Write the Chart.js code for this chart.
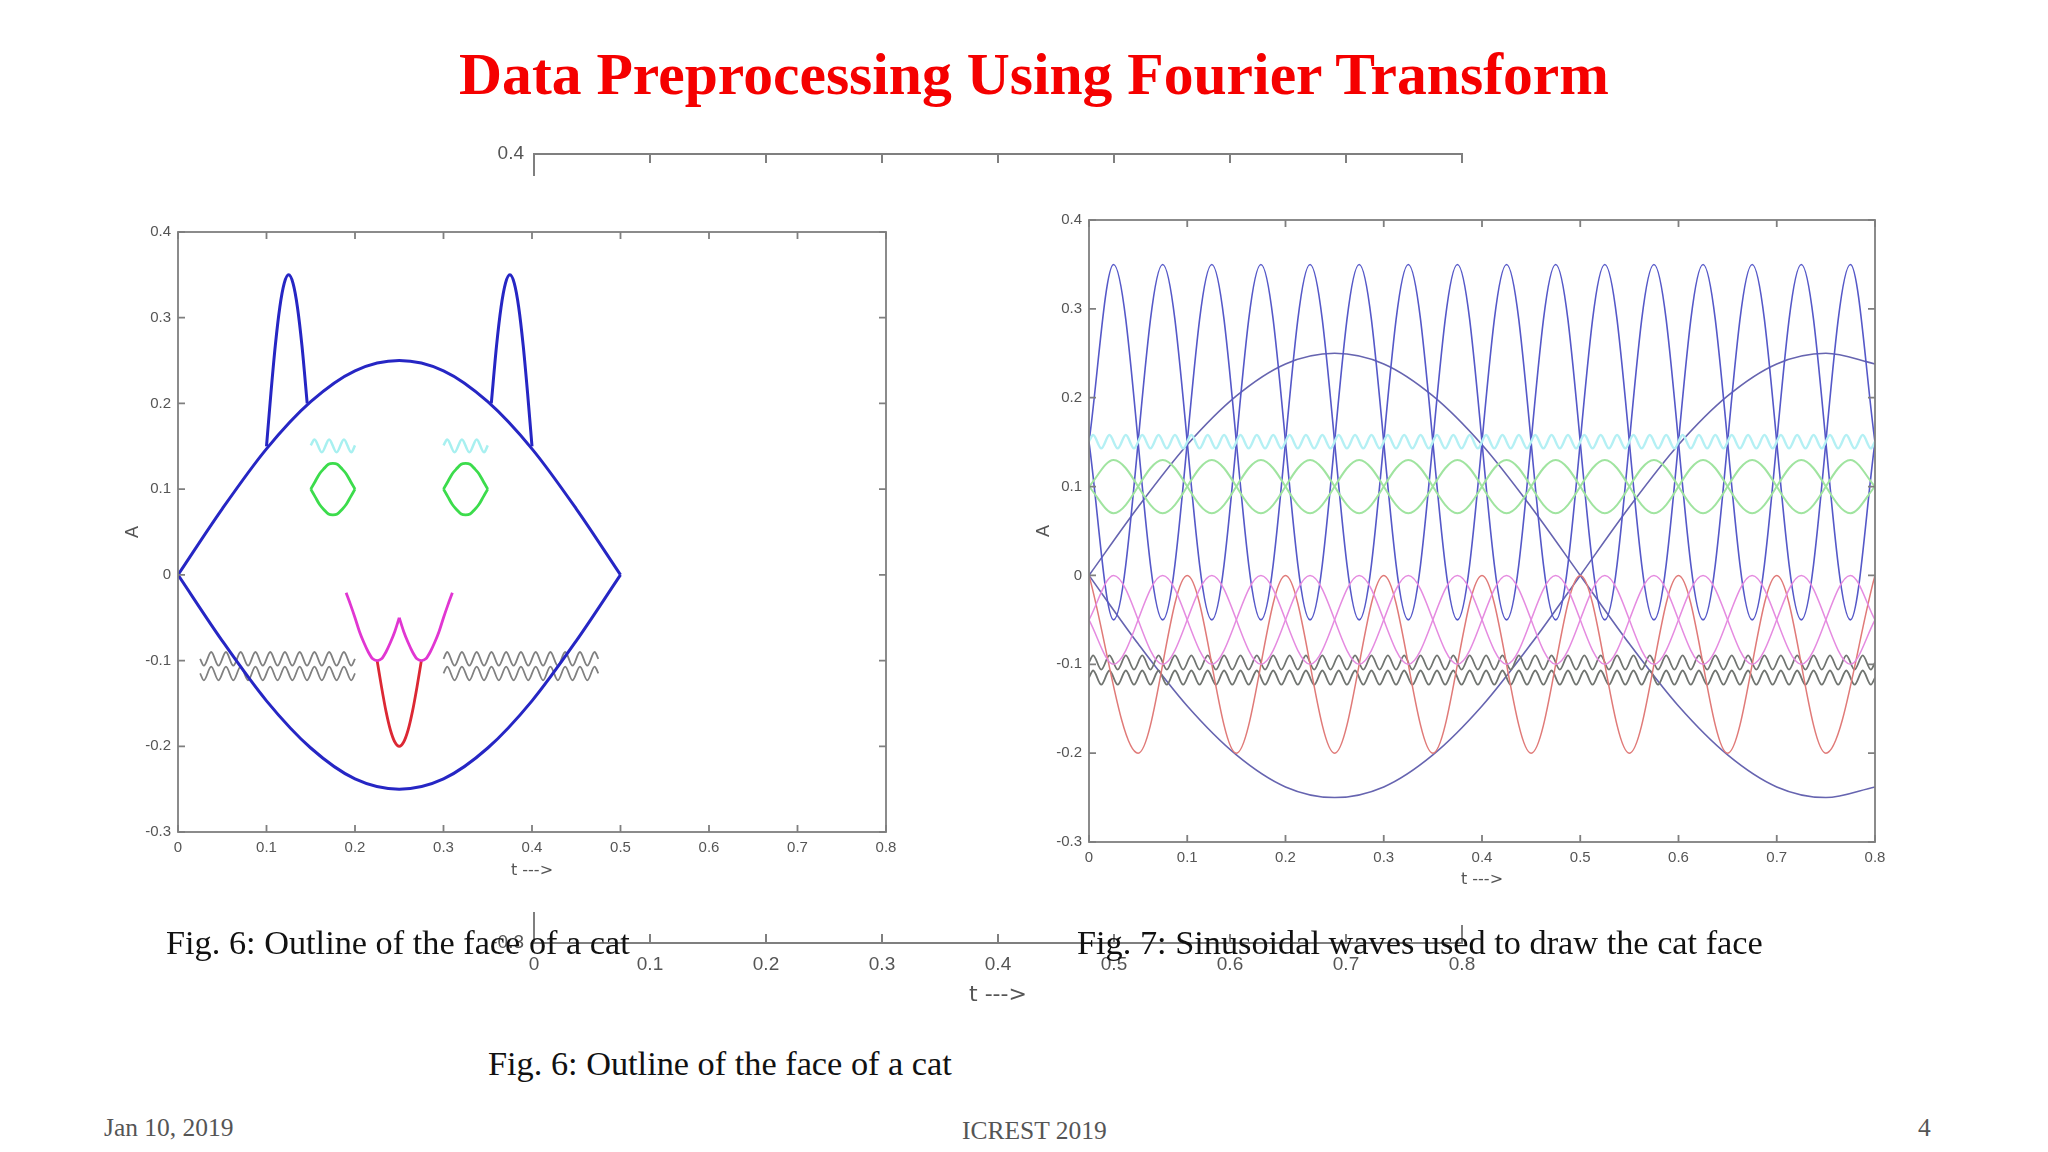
<!DOCTYPE html>
<html>
<head>
<meta charset="utf-8">
<title>Data Preprocessing Using Fourier Transform</title>
<script src="https://cdn.jsdelivr.net/npm/chart.js@4"></script>
<style>
  html, body { margin: 0; padding: 0; background: #fff; }
  body { position: relative; width: 2048px; height: 1152px; overflow: hidden; }
  canvas { position: absolute; filter: blur(0.5px); }
  .cover { position: absolute; background: #fff; z-index: 2; }
  .txt { position: absolute; white-space: nowrap; font-family: "Liberation Serif", serif; z-index: 5; line-height: 1; }
  #slideTitle { left: 0; width: 2068px; text-align: center; top: 45px; font-size: 59.6px; font-weight: bold; color: #f50000; }
  .cap { font-size: 34.3px; color: #111; }
  .foot { font-size: 25.5px; color: #555; }
</style>
</head>
<body>
<canvas id="bgChart" width="1013" height="883" style="left:474px;top:129px;z-index:1"></canvas>
<div class="cover" style="left:0;top:176px;width:1000px;height:736px"></div>
<div class="cover" style="left:1000px;top:176px;width:1048px;height:749px"></div>
<div class="cover" style="left:1450px;top:163px;width:30px;height:13px"></div>
<canvas id="faceChart" width="803" height="677" style="left:108px;top:207px;z-index:3"></canvas>
<canvas id="waveChart" width="881" height="698" style="left:1019px;top:195px;z-index:3"></canvas>

<div class="txt" id="slideTitle">Data Preprocessing Using Fourier Transform</div>
<div class="txt cap" style="left:166px;top:925px">Fig. 6: Outline of the face of a cat</div>
<div class="txt cap" style="left:1077px;top:925px">Fig. 7: Sinusoidal waves used to draw the cat face</div>
<div class="txt cap" style="left:488px;top:1046px">Fig. 6: Outline of the face of a cat</div>
<div class="txt foot" style="left:104px;top:1115px">Jan 10, 2019</div>
<div class="txt foot" style="left:962px;top:1118px">ICREST 2019</div>
<div class="txt foot" style="left:1918px;top:1115px">4</div>

<script>
// axis ticks
const xTicks = [0, 0.1, 0.2, 0.3, 0.4, 0.5, 0.6, 0.7, 0.8];
const yTicks = [-0.3, -0.2, -0.1, 0, 0.1, 0.2, 0.3, 0.4];

// Fig. 6, the cat face, piece by piece
const faceT = [0, 0.05, 0.1, 0.15, 0.2, 0.25, 0.3, 0.35, 0.4, 0.45, 0.5];
const faceTop = [0, 0.077, 0.147, 0.202, 0.238, 0.25, 0.238, 0.202, 0.147, 0.077, 0];
const faceBottom = [0, -0.077, -0.147, -0.202, -0.238, -0.25, -0.238, -0.202, -0.147, -0.077, 0];

const earLeftT = [0.1, 0.105, 0.11, 0.115, 0.12, 0.125, 0.13, 0.135, 0.14, 0.146];
const earLeftY = [0.15, 0.212, 0.268, 0.312, 0.34, 0.35, 0.34, 0.312, 0.268, 0.2];
const earRightT = [0.354, 0.36, 0.365, 0.37, 0.375, 0.38, 0.385, 0.39, 0.395, 0.4];
const earRightY = [0.2, 0.268, 0.312, 0.34, 0.35, 0.34, 0.312, 0.268, 0.212, 0.15];

const eyeLeftT = [0.15, 0.155, 0.16, 0.165, 0.17, 0.175, 0.18, 0.185, 0.19, 0.195, 0.2];
const eyeRightT = [0.3, 0.305, 0.31, 0.315, 0.32, 0.325, 0.33, 0.335, 0.34, 0.345, 0.35];
const eyeUpper = [0.1, 0.109, 0.118, 0.124, 0.129, 0.13, 0.129, 0.124, 0.118, 0.109, 0.1];
const eyeLower = [0.1, 0.091, 0.082, 0.076, 0.071, 0.07, 0.071, 0.076, 0.082, 0.091, 0.1];

const browLeftT = [0.15, 0.1542, 0.1625, 0.1708, 0.1792, 0.1875, 0.1958, 0.2];
const browRightT = [0.3, 0.3042, 0.3125, 0.3208, 0.3292, 0.3375, 0.3458, 0.35];
const browY = [0.151, 0.158, 0.143, 0.158, 0.143, 0.158, 0.143, 0.151];

const mouthLeftT = [0.19, 0.195, 0.2, 0.205, 0.21, 0.215, 0.22, 0.225, 0.23, 0.235, 0.24, 0.245, 0.25];
const mouthLeftY = [-0.021, -0.035, -0.05, -0.066, -0.079, -0.09, -0.098, -0.1, -0.098, -0.09, -0.079, -0.066, -0.05];
const mouthRightT = [0.25, 0.255, 0.26, 0.265, 0.27, 0.275, 0.28, 0.285, 0.29, 0.295, 0.3, 0.305, 0.31];
const mouthRightY = [-0.05, -0.066, -0.079, -0.09, -0.098, -0.1, -0.098, -0.09, -0.079, -0.066, -0.05, -0.035, -0.021];

const chinT = [0.225, 0.23, 0.235, 0.24, 0.245, 0.25, 0.255, 0.26, 0.265, 0.27, 0.275];
const chinY = [-0.1, -0.131, -0.159, -0.181, -0.195, -0.2, -0.195, -0.181, -0.159, -0.131, -0.1];

const whiskerLeftT = [0.025, 0.0292, 0.0375, 0.0458, 0.0542, 0.0625, 0.0708, 0.0792, 0.0875, 0.0958, 0.1042, 0.1125,
  0.1208, 0.1292, 0.1375, 0.1458, 0.1542, 0.1625, 0.1708, 0.1792, 0.1875, 0.1958, 0.2];
const whiskerLeftUpper = [-0.098, -0.106, -0.09, -0.106, -0.09, -0.106, -0.09, -0.106, -0.09, -0.106, -0.09, -0.106,
  -0.09, -0.106, -0.09, -0.106, -0.09, -0.106, -0.09, -0.106, -0.09, -0.106, -0.098];
const whiskerLeftLower = [-0.115, -0.123, -0.107, -0.123, -0.107, -0.123, -0.107, -0.123, -0.107, -0.123, -0.107, -0.123,
  -0.107, -0.123, -0.107, -0.123, -0.107, -0.123, -0.107, -0.123, -0.107, -0.123, -0.115];
const whiskerRightT = [0.3, 0.3042, 0.3125, 0.3208, 0.3292, 0.3375, 0.3458, 0.3542, 0.3625, 0.3708, 0.3792, 0.3875,
  0.3958, 0.4042, 0.4125, 0.4208, 0.4292, 0.4375, 0.4458, 0.4542, 0.4625, 0.4708, 0.475];
const whiskerRightUpper = [-0.098, -0.09, -0.106, -0.09, -0.106, -0.09, -0.106, -0.09, -0.106, -0.09, -0.106, -0.09,
  -0.106, -0.09, -0.106, -0.09, -0.106, -0.09, -0.106, -0.09, -0.106, -0.09, -0.098];
const whiskerRightLower = [-0.115, -0.107, -0.123, -0.107, -0.123, -0.107, -0.123, -0.107, -0.123, -0.107, -0.123, -0.107,
  -0.123, -0.107, -0.123, -0.107, -0.123, -0.107, -0.123, -0.107, -0.123, -0.107, -0.115];

// Fig. 7, the full waves over 0..0.8
const slowT = [0, 0.05, 0.1, 0.15, 0.2, 0.25, 0.3, 0.35, 0.4, 0.45, 0.5, 0.55, 0.6, 0.65, 0.7, 0.75, 0.8];
const waveFaceUp = [0, 0.077, 0.147, 0.202, 0.238, 0.25, 0.238, 0.202, 0.147, 0.077, 0, -0.077, -0.147, -0.202, -0.238, -0.25, -0.238];
const waveFaceDown = [0, -0.077, -0.147, -0.202, -0.238, -0.25, -0.238, -0.202, -0.147, -0.077, 0, 0.077, 0.147, 0.202, 0.238, 0.25, 0.238];
const waveChin = [0, -0.2, 0, -0.2, 0, -0.2, 0, -0.2, 0, -0.2, 0, -0.2, 0, -0.2, 0, -0.2, 0];

const midT = [0, 0.025, 0.075, 0.125, 0.175, 0.225, 0.275, 0.325, 0.375, 0.425, 0.475, 0.525, 0.575, 0.625, 0.675, 0.725, 0.775, 0.8];
const waveEarUp = [0.15, 0.35, -0.05, 0.35, -0.05, 0.35, -0.05, 0.35, -0.05, 0.35, -0.05, 0.35, -0.05, 0.35, -0.05, 0.35, -0.05, 0.15];
const waveEarDown = [0.15, -0.05, 0.35, -0.05, 0.35, -0.05, 0.35, -0.05, 0.35, -0.05, 0.35, -0.05, 0.35, -0.05, 0.35, -0.05, 0.35, 0.15];
const waveEyeUp = [0.1, 0.13, 0.07, 0.13, 0.07, 0.13, 0.07, 0.13, 0.07, 0.13, 0.07, 0.13, 0.07, 0.13, 0.07, 0.13, 0.07, 0.1];
const waveEyeDown = [0.1, 0.07, 0.13, 0.07, 0.13, 0.07, 0.13, 0.07, 0.13, 0.07, 0.13, 0.07, 0.13, 0.07, 0.13, 0.07, 0.13, 0.1];
const waveMouthUp = [-0.05, 0, -0.1, 0, -0.1, 0, -0.1, 0, -0.1, 0, -0.1, 0, -0.1, 0, -0.1, 0, -0.1, -0.05];
const waveMouthDown = [-0.05, -0.1, 0, -0.1, 0, -0.1, 0, -0.1, 0, -0.1, 0, -0.1, 0, -0.1, 0, -0.1, 0, -0.05];

const fastT = [0,
  0.0042, 0.0125, 0.0208, 0.0292, 0.0375, 0.0458, 0.0542, 0.0625, 0.0708, 0.0792, 0.0875, 0.0958,
  0.1042, 0.1125, 0.1208, 0.1292, 0.1375, 0.1458, 0.1542, 0.1625, 0.1708, 0.1792, 0.1875, 0.1958,
  0.2042, 0.2125, 0.2208, 0.2292, 0.2375, 0.2458, 0.2542, 0.2625, 0.2708, 0.2792, 0.2875, 0.2958,
  0.3042, 0.3125, 0.3208, 0.3292, 0.3375, 0.3458, 0.3542, 0.3625, 0.3708, 0.3792, 0.3875, 0.3958,
  0.4042, 0.4125, 0.4208, 0.4292, 0.4375, 0.4458, 0.4542, 0.4625, 0.4708, 0.4792, 0.4875, 0.4958,
  0.5042, 0.5125, 0.5208, 0.5292, 0.5375, 0.5458, 0.5542, 0.5625, 0.5708, 0.5792, 0.5875, 0.5958,
  0.6042, 0.6125, 0.6208, 0.6292, 0.6375, 0.6458, 0.6542, 0.6625, 0.6708, 0.6792, 0.6875, 0.6958,
  0.7042, 0.7125, 0.7208, 0.7292, 0.7375, 0.7458, 0.7542, 0.7625, 0.7708, 0.7792, 0.7875, 0.7958,
  0.8];
const waveBrow = [0.151,
  0.158, 0.143, 0.158, 0.143, 0.158, 0.143, 0.158, 0.143, 0.158, 0.143, 0.158, 0.143,
  0.158, 0.143, 0.158, 0.143, 0.158, 0.143, 0.158, 0.143, 0.158, 0.143, 0.158, 0.143,
  0.158, 0.143, 0.158, 0.143, 0.158, 0.143, 0.158, 0.143, 0.158, 0.143, 0.158, 0.143,
  0.158, 0.143, 0.158, 0.143, 0.158, 0.143, 0.158, 0.143, 0.158, 0.143, 0.158, 0.143,
  0.158, 0.143, 0.158, 0.143, 0.158, 0.143, 0.158, 0.143, 0.158, 0.143, 0.158, 0.143,
  0.158, 0.143, 0.158, 0.143, 0.158, 0.143, 0.158, 0.143, 0.158, 0.143, 0.158, 0.143,
  0.158, 0.143, 0.158, 0.143, 0.158, 0.143, 0.158, 0.143, 0.158, 0.143, 0.158, 0.143,
  0.158, 0.143, 0.158, 0.143, 0.158, 0.143, 0.158, 0.143, 0.158, 0.143, 0.158, 0.143,
  0.151];
const waveWhiskerUpper = [-0.098,
  -0.09, -0.106, -0.09, -0.106, -0.09, -0.106, -0.09, -0.106, -0.09, -0.106, -0.09, -0.106,
  -0.09, -0.106, -0.09, -0.106, -0.09, -0.106, -0.09, -0.106, -0.09, -0.106, -0.09, -0.106,
  -0.09, -0.106, -0.09, -0.106, -0.09, -0.106, -0.09, -0.106, -0.09, -0.106, -0.09, -0.106,
  -0.09, -0.106, -0.09, -0.106, -0.09, -0.106, -0.09, -0.106, -0.09, -0.106, -0.09, -0.106,
  -0.09, -0.106, -0.09, -0.106, -0.09, -0.106, -0.09, -0.106, -0.09, -0.106, -0.09, -0.106,
  -0.09, -0.106, -0.09, -0.106, -0.09, -0.106, -0.09, -0.106, -0.09, -0.106, -0.09, -0.106,
  -0.09, -0.106, -0.09, -0.106, -0.09, -0.106, -0.09, -0.106, -0.09, -0.106, -0.09, -0.106,
  -0.09, -0.106, -0.09, -0.106, -0.09, -0.106, -0.09, -0.106, -0.09, -0.106, -0.09, -0.106,
  -0.098];
const waveWhiskerLower = [-0.115,
  -0.107, -0.123, -0.107, -0.123, -0.107, -0.123, -0.107, -0.123, -0.107, -0.123, -0.107, -0.123,
  -0.107, -0.123, -0.107, -0.123, -0.107, -0.123, -0.107, -0.123, -0.107, -0.123, -0.107, -0.123,
  -0.107, -0.123, -0.107, -0.123, -0.107, -0.123, -0.107, -0.123, -0.107, -0.123, -0.107, -0.123,
  -0.107, -0.123, -0.107, -0.123, -0.107, -0.123, -0.107, -0.123, -0.107, -0.123, -0.107, -0.123,
  -0.107, -0.123, -0.107, -0.123, -0.107, -0.123, -0.107, -0.123, -0.107, -0.123, -0.107, -0.123,
  -0.107, -0.123, -0.107, -0.123, -0.107, -0.123, -0.107, -0.123, -0.107, -0.123, -0.107, -0.123,
  -0.107, -0.123, -0.107, -0.123, -0.107, -0.123, -0.107, -0.123, -0.107, -0.123, -0.107, -0.123,
  -0.107, -0.123, -0.107, -0.123, -0.107, -0.123, -0.107, -0.123, -0.107, -0.123, -0.107, -0.123,
  -0.115];

function line(xs, ys, color, width) {
  return {
    data: xs.map((x, i) => ({ x: x, y: ys[i] })),
    borderColor: color,
    borderWidth: width,
    pointRadius: 0,
    fill: false,
    cubicInterpolationMode: "monotone",
  };
}

// matlab style box with the ticks pointing inward
const boxTicks = {
  id: "boxTicks",
  afterDatasetsDraw(chart, args, opts) {
    const { ctx, chartArea: a, scales } = chart;
    ctx.save();
    ctx.strokeStyle = opts.color;
    ctx.lineWidth = opts.width;
    ctx.strokeRect(a.left, a.top, a.right - a.left, a.bottom - a.top);
    ctx.beginPath();
    xTicks.forEach((v) => {
      const px = scales.x.getPixelForValue(v);
      ctx.moveTo(px, a.top);
      ctx.lineTo(px, a.top + opts.len);
      ctx.moveTo(px, a.bottom);
      ctx.lineTo(px, a.bottom - opts.len);
    });
    yTicks.forEach((v) => {
      const py = scales.y.getPixelForValue(v);
      ctx.moveTo(a.left, py);
      ctx.lineTo(a.left + opts.len, py);
      ctx.moveTo(a.right, py);
      ctx.lineTo(a.right - opts.len, py);
    });
    ctx.stroke();
    ctx.restore();
  },
};

function makeChart(id, datasets, axisW, axisH, fontSize, tickPad, boxWidth, titleSize, showY) {
  const font = { family: '"Liberation Sans", Arial, sans-serif', size: fontSize };
  const titleFont = { family: '"DejaVu Sans", sans-serif', size: titleSize };
  const textColor = "#555555";
  return new Chart(document.getElementById(id), {
    type: "line",
    data: { datasets: datasets },
    plugins: [boxTicks],
    options: {
      responsive: false,
      animation: false,
      devicePixelRatio: 1,
      layout: { padding: { top: 25, right: 25 } },
      plugins: {
        legend: { display: false },
        tooltip: { enabled: false },
        boxTicks: { color: "#7f7f7f", width: boxWidth, len: Math.round(fontSize * 0.45) },
      },
      scales: {
        x: {
          type: "linear",
          min: 0,
          max: 0.8,
          grid: { display: false, drawTicks: false },
          border: { display: false },
          afterBuildTicks(axis) { axis.ticks = xTicks.map((v) => ({ value: v })); },
          afterFit(axis) { axis.height = axisH; },
          ticks: {
            autoSkip: false,
            maxRotation: 0,
            padding: tickPad,
            color: textColor,
            font: font,
            callback: (v) => String(v),
          },
          title: { display: true, text: "t --->", color: textColor, font: titleFont, padding: { top: 4, bottom: 4 } },
        },
        y: {
          min: -0.3,
          max: 0.4,
          grid: { display: false, drawTicks: false },
          border: { display: false },
          afterBuildTicks(axis) { axis.ticks = yTicks.map((v) => ({ value: v })); },
          afterFit(axis) { axis.width = axisW; },
          ticks: {
            autoSkip: false,
            padding: tickPad,
            color: textColor,
            font: font,
            callback: (v) => String(v),
          },
          title: {
            display: showY,
            text: "A",
            color: textColor,
            font: { family: '"Liberation Sans", Arial, sans-serif', size: 18 },
            padding: { top: 14, bottom: 0 },
          },
        },
      },
    },
  });
}

const BLUE = "#2626c4";
const GREEN = "#3cdc4c";
const CYAN = "#a8f0f0";
const PINK = "#e136d2";
const RED = "#dc2834";
const GREY = "#808080";

makeChart("bgChart", [], 60, 69, 19, 10, 2, 22, false);

makeChart("faceChart", [
  line(faceT, faceTop, BLUE, 3),
  line(faceT, faceBottom, BLUE, 3),
  line(earLeftT, earLeftY, BLUE, 3),
  line(earRightT, earRightY, BLUE, 3),
  line(eyeLeftT, eyeUpper, GREEN, 2.8),
  line(eyeLeftT, eyeLower, GREEN, 2.8),
  line(eyeRightT, eyeUpper, GREEN, 2.8),
  line(eyeRightT, eyeLower, GREEN, 2.8),
  line(browLeftT, browY, CYAN, 2.6),
  line(browRightT, browY, CYAN, 2.6),
  line(mouthLeftT, mouthLeftY, PINK, 2.8),
  line(mouthRightT, mouthRightY, PINK, 2.8),
  line(chinT, chinY, RED, 2.8),
  line(whiskerLeftT, whiskerLeftUpper, GREY, 1.8),
  line(whiskerLeftT, whiskerLeftLower, GREY, 1.8),
  line(whiskerRightT, whiskerRightUpper, GREY, 1.8),
  line(whiskerRightT, whiskerRightLower, GREY, 1.8),
], 70, 52, 15, 7, 1.8, 16, true);

makeChart("waveChart", [
  line(fastT, waveBrow, "#b4f0f4", 2.4),
  line(midT, waveEyeUp, "#a0e4a0", 2),
  line(midT, waveEyeDown, "#a0e4a0", 2),
  line(midT, waveMouthUp, "#e58be0", 1.5),
  line(midT, waveMouthDown, "#e58be0", 1.5),
  line(slowT, waveChin, "#e07a78", 1.5),
  line(fastT, waveWhiskerUpper, "#707470", 1.8),
  line(fastT, waveWhiskerLower, "#707470", 1.8),
  line(midT, waveEarUp, "#5558c8", 1.6),
  line(midT, waveEarDown, "#5558c8", 1.6),
  line(slowT, waveFaceUp, "#6664b0", 1.6),
  line(slowT, waveFaceDown, "#6664b0", 1.6),
], 70, 51, 15, 7, 1.8, 16, true);
</script>
</body>
</html>
